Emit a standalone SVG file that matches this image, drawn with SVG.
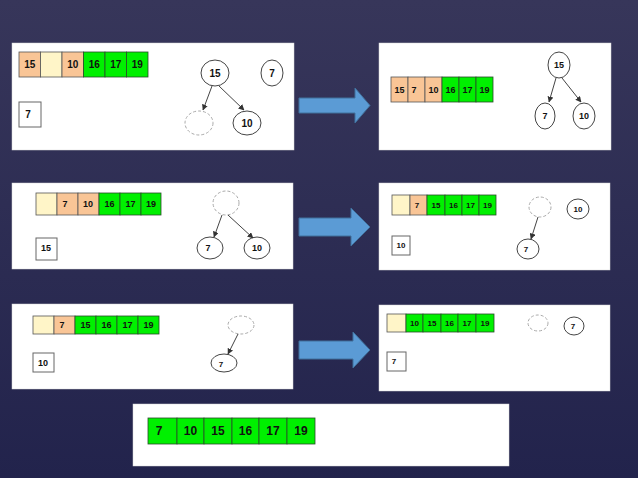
<svg xmlns="http://www.w3.org/2000/svg" width="638" height="478" viewBox="0 0 638 478">
<defs>
<linearGradient id="bg" x1="0" y1="0" x2="0" y2="1">
<stop offset="0" stop-color="#37365a"/>
<stop offset="1" stop-color="#22234c"/>
</linearGradient>
<marker id="ah" viewBox="0 0 10 10" refX="9" refY="5" markerWidth="6" markerHeight="6" orient="auto" markerUnits="userSpaceOnUse">
<path d="M0,0 L10,5 L0,10 z" fill="#333"/>
</marker>
<style>
.panel{fill:#ffffff;stroke:#d8d8d8;stroke-width:0.5}
.pe{fill:#f9c596;stroke:#555;stroke-width:0.8}
.ly{fill:#fff5c8;stroke:#555;stroke-width:0.8}
.gr{fill:#00f000;stroke:#2a4a2a;stroke-width:0.8}
.bx{fill:#ffffff;stroke:#666;stroke-width:1}
.nd{fill:#ffffff;stroke:#444;stroke-width:1}
.dn{fill:#ffffff;stroke:#aaa;stroke-width:1;stroke-dasharray:3 2}
.cn{stroke:#444;stroke-width:1;fill:none;marker-end:url(#ah)}
.big{fill:#5b9bd5;stroke:#41719c;stroke-width:1}
text{font-family:"Liberation Sans",Arial,sans-serif;font-weight:bold;fill:#111;text-anchor:middle;dominant-baseline:central}
.t10{font-size:10px}
.t9{font-size:9px}
.t8{font-size:8px}
.t12{font-size:12px}
</style>
</defs>
<rect width="638" height="478" fill="url(#bg)"/>

<!-- Panels -->
<g id="panel1">
<rect class="panel" x="12" y="43" width="282" height="107"/>
<g id="p1-array">
<rect class="pe" x="19" y="52" width="21.5" height="25"/><text class="t10" x="29.7" y="64.5">15</text>
<rect class="ly" x="40.5" y="52" width="21.5" height="25"/>
<rect class="pe" x="62" y="52" width="21.5" height="25"/><text class="t10" x="72.7" y="64.5">10</text>
<rect class="gr" x="83.5" y="52" width="21.5" height="25"/><text class="t10" x="94.2" y="64.5">16</text>
<rect class="gr" x="105" y="52" width="21.5" height="25"/><text class="t10" x="115.7" y="64.5">17</text>
<rect class="gr" x="126.5" y="52" width="21.5" height="25"/><text class="t10" x="137.2" y="64.5">19</text>
</g>
<g id="p1-box7"><rect class="bx" x="19" y="102" width="22" height="25"/><text class="t10" x="28" y="114.5">7</text></g>
<g id="p1-n15"><ellipse class="nd" cx="215" cy="73" rx="14" ry="13"/><text class="t10" x="215" y="73">15</text></g>
<g id="p1-n7"><ellipse class="nd" cx="272" cy="73" rx="11" ry="13"/><text class="t10" x="272" y="73">7</text></g>
<g id="p1-nempty"><ellipse class="dn" cx="199" cy="123" rx="14" ry="12"/></g>
<g id="p1-n10"><ellipse class="nd" cx="247" cy="123" rx="14" ry="12"/><text class="t10" x="247" y="123">10</text></g>
</g>

<g id="panel2">
<rect class="panel" x="379" y="43" width="232" height="107"/>
<g id="p2-array">
<rect class="pe" x="391" y="77" width="17" height="25"/><text class="t9" x="399.5" y="89.5">15</text>
<rect class="pe" x="408" y="77" width="17" height="25"/><text class="t9" x="414" y="89.5">7</text>
<rect class="pe" x="425" y="77" width="17" height="25"/><text class="t9" x="433.5" y="89.5">10</text>
<rect class="gr" x="442" y="77" width="17" height="25"/><text class="t9" x="450.5" y="89.5">16</text>
<rect class="gr" x="459" y="77" width="17" height="25"/><text class="t9" x="467.5" y="89.5">17</text>
<rect class="gr" x="476" y="77" width="17" height="25"/><text class="t9" x="484.5" y="89.5">19</text>
</g>
<g id="p2-n15"><ellipse class="nd" cx="559" cy="65" rx="11" ry="13"/><text class="t9" x="559" y="65">15</text></g>
<g id="p2-n7"><ellipse class="nd" cx="545" cy="116" rx="10" ry="13"/><text class="t9" x="545" y="116">7</text></g>
<g id="p2-n10"><ellipse class="nd" cx="584" cy="116" rx="11" ry="13"/><text class="t9" x="584" y="116">10</text></g>
</g>

<g id="panel3">
<rect class="panel" x="12" y="183" width="281" height="86"/>
<g id="p3-array">
<rect class="ly" x="36" y="193" width="21" height="22"/>
<rect class="pe" x="57" y="193" width="21" height="22"/><text class="t9" x="65" y="204">7</text>
<rect class="pe" x="78" y="193" width="21" height="22"/><text class="t9" x="88" y="204">10</text>
<rect class="gr" x="99" y="193" width="21" height="22"/><text class="t9" x="109.5" y="204">16</text>
<rect class="gr" x="120" y="193" width="21" height="22"/><text class="t9" x="130.5" y="204">17</text>
<rect class="gr" x="141" y="193" width="20" height="22"/><text class="t9" x="151" y="204">19</text>
</g>
<g id="p3-box15"><rect class="bx" x="36" y="238" width="21" height="22"/><text class="t9" x="46" y="248">15</text></g>
<g id="p3-nempty"><ellipse class="dn" cx="226" cy="203" rx="13" ry="12"/></g>
<g id="p3-n7"><ellipse class="nd" cx="210" cy="248" rx="13" ry="11"/><text class="t9" x="208" y="248">7</text></g>
<g id="p3-n10"><ellipse class="nd" cx="257" cy="248" rx="13" ry="11"/><text class="t9" x="257" y="248">10</text></g>
</g>

<g id="panel4">
<rect class="panel" x="379" y="183" width="231" height="87"/>
<g id="p4-array">
<rect class="ly" x="392" y="195" width="18" height="20"/>
<rect class="pe" x="410" y="195" width="17" height="20"/><text class="t8" x="417" y="205">7</text>
<rect class="gr" x="427" y="195" width="18" height="20"/><text class="t8" x="436" y="205">15</text>
<rect class="gr" x="445" y="195" width="17" height="20"/><text class="t8" x="453.5" y="205">16</text>
<rect class="gr" x="462" y="195" width="17" height="20"/><text class="t8" x="470.5" y="205">17</text>
<rect class="gr" x="479" y="195" width="17" height="20"/><text class="t8" x="487.5" y="205">19</text>
</g>
<g id="p4-box10"><rect class="bx" x="392" y="236" width="18" height="19"/><text class="t8" x="401" y="245.5">10</text></g>
<g id="p4-nempty"><ellipse class="dn" cx="540" cy="207" rx="11" ry="10"/></g>
<g id="p4-n10"><ellipse class="nd" cx="578" cy="209" rx="11" ry="10"/><text class="t8" x="578" y="209">10</text></g>
<g id="p4-n7"><ellipse class="nd" cx="528" cy="249" rx="11" ry="10"/><text class="t8" x="526" y="249">7</text></g>
</g>

<g id="panel5">
<rect class="panel" x="12" y="304" width="281" height="85"/>
<g id="p5-array">
<rect class="ly" x="33" y="316" width="21" height="18"/>
<rect class="pe" x="54" y="316" width="21" height="18"/><text class="t9" x="62" y="325">7</text>
<rect class="gr" x="75" y="316" width="21" height="18"/><text class="t9" x="85.5" y="325">15</text>
<rect class="gr" x="96" y="316" width="21" height="18"/><text class="t9" x="106.5" y="325">16</text>
<rect class="gr" x="117" y="316" width="21" height="18"/><text class="t9" x="127.5" y="325">17</text>
<rect class="gr" x="138" y="316" width="21" height="18"/><text class="t9" x="148.5" y="325">19</text>
</g>
<g id="p5-box10"><rect class="bx" x="33" y="353" width="21" height="19"/><text class="t9" x="43" y="362.5">10</text></g>
<g id="p5-nempty"><ellipse class="dn" cx="241" cy="325" rx="13" ry="9"/></g>
<g id="p5-n7"><ellipse class="nd" cx="224" cy="363" rx="13" ry="9"/><text class="t8" x="221" y="364">7</text></g>
</g>

<g id="panel6">
<rect class="panel" x="379" y="305" width="231" height="86"/>
<g id="p6-array">
<rect class="ly" x="387" y="314" width="19" height="18"/>
<rect class="gr" x="406" y="314" width="17" height="18"/><text class="t8" x="414.5" y="323">10</text>
<rect class="gr" x="423" y="314" width="18" height="18"/><text class="t8" x="432" y="323">15</text>
<rect class="gr" x="441" y="314" width="17" height="18"/><text class="t8" x="449.5" y="323">16</text>
<rect class="gr" x="458" y="314" width="18" height="18"/><text class="t8" x="467" y="323">17</text>
<rect class="gr" x="476" y="314" width="18" height="18"/><text class="t8" x="485" y="323">19</text>
</g>
<g id="p6-box7"><rect class="bx" x="387" y="352" width="19" height="19"/><text class="t8" x="394" y="361.5">7</text></g>
<g id="p6-nempty"><ellipse class="dn" cx="538" cy="323" rx="10" ry="8"/></g>
<g id="p6-n7"><ellipse class="nd" cx="574" cy="326" rx="10" ry="9"/><text class="t8" x="573" y="326">7</text></g>
</g>

<g id="panel7">
<rect class="panel" x="133" y="404" width="376" height="62"/>
<g id="p7-array">
<rect class="gr" x="148" y="418" width="29" height="26"/><text class="t12" x="159" y="431">7</text>
<rect class="gr" x="177" y="418" width="27" height="26"/><text class="t12" x="190.5" y="431">10</text>
<rect class="gr" x="204" y="418" width="28" height="26"/><text class="t12" x="218" y="431">15</text>
<rect class="gr" x="232" y="418" width="27" height="26"/><text class="t12" x="245.5" y="431">16</text>
<rect class="gr" x="259" y="418" width="28" height="26"/><text class="t12" x="273" y="431">17</text>
<rect class="gr" x="287" y="418" width="28" height="26"/><text class="t12" x="301" y="431">19</text>
</g>
</g>

<g id="connectors">
<line class="cn" x1="212" y1="86" x2="203" y2="110"/>
<line class="cn" x1="219" y1="86" x2="244" y2="110"/>
<line class="cn" x1="556" y1="78" x2="549" y2="102"/>
<line class="cn" x1="562" y1="78" x2="581" y2="102"/>
<line class="cn" x1="222" y1="215" x2="214" y2="237"/>
<line class="cn" x1="228" y1="215" x2="253" y2="238"/>
<line class="cn" x1="538" y1="217" x2="531" y2="239"/>
<line class="cn" x1="238" y1="334" x2="228" y2="354"/>
<path class="big" d="M299,98 H355 V88 L370,105.5 L355,123 V113 H299 Z"/>
<path class="big" d="M299,218 H351 V208 L370,227 L351,246 V236 H299 Z"/>
<path class="big" d="M299,341 H353 V332 L370,350 L353,368 V359 H299 Z"/>
</g>
</svg>
